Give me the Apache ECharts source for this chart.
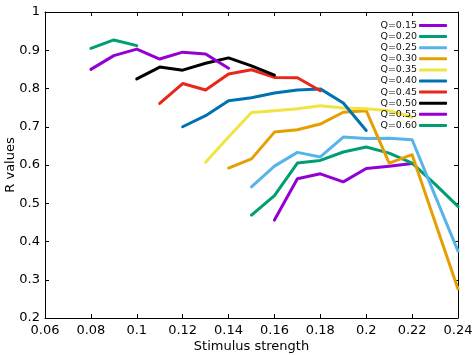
<!DOCTYPE html>
<html><head><meta charset="utf-8">
<script src="https://cdn.jsdelivr.net/npm/echarts@6/dist/echarts.min.js"></script>
<style>html,body{margin:0;padding:0;background:#fff}#c{width:474px;height:355px}</style>
</head><body><div id="c"></div>
<script>
const seriesNames = ['Q=0.15','Q=0.20','Q=0.25','Q=0.30','Q=0.35','Q=0.40','Q=0.45','Q=0.50','Q=0.55','Q=0.60'];
const q15x = [0.16,0.17,0.18,0.19,0.20,0.21,0.22];
const q15y = [0.456,0.564,0.577,0.556,0.591,0.597,0.604];
const q20x = [0.15,0.16,0.17,0.18,0.19,0.20,0.21,0.22,0.23,0.24];
const q20y = [0.469,0.520,0.605,0.612,0.634,0.647,0.631,0.605,0.550,0.492];
const q25x = [0.15,0.16,0.17,0.18,0.19,0.20,0.21,0.22,0.23,0.24];
const q25y = [0.543,0.597,0.633,0.621,0.673,0.669,0.670,0.666,0.520,0.375];
const q30x = [0.14,0.15,0.16,0.17,0.18,0.19,0.20,0.21,0.22,0.23,0.24];
const q30y = [0.592,0.616,0.686,0.692,0.707,0.738,0.742,0.605,0.627,0.451,0.276];
const q35x = [0.13,0.14,0.15,0.16,0.17,0.18,0.19,0.20,0.21,0.22];
const q35y = [0.607,0.673,0.737,0.742,0.747,0.755,0.749,0.747,0.742,0.725];
const q40x = [0.12,0.13,0.14,0.15,0.16,0.17,0.18,0.19,0.20];
const q40y = [0.700,0.729,0.768,0.776,0.788,0.796,0.799,0.762,0.690];
const q45x = [0.11,0.12,0.13,0.14,0.15,0.16,0.17,0.18];
const q45y = [0.761,0.813,0.796,0.838,0.849,0.829,0.828,0.794];
const q50x = [0.10,0.11,0.12,0.13,0.14,0.15,0.16];
const q50y = [0.825,0.856,0.848,0.866,0.880,0.859,0.835];
const q55x = [0.08,0.09,0.10,0.11,0.12,0.13,0.14];
const q55y = [0.850,0.886,0.903,0.877,0.895,0.890,0.853];
const q60x = [0.08,0.09,0.10];
const q60y = [0.905,0.927,0.912];

const xs = [q15x,q20x,q25x,q30x,q35x,q40x,q45x,q50x,q55x,q60x];
const ys = [q15y,q20y,q25y,q30y,q35y,q40y,q45y,q50y,q55y,q60y];
const colors = ['#9400D3','#009E73','#56B4E9','#E69F00','#F0E442','#0072B2','#E8261A','#000000','#9400D3','#009E73'];

const font = 'DejaVu Sans';
const axisLine = {show:true, lineStyle:{color:'#000', width:1}};
const axisTick = {show:true, inside:true, length:4, lineStyle:{color:'#000'}};

const chart = echarts.init(document.getElementById('c'), null, {renderer:'canvas'});
chart.setOption({
  animation:false,
  backgroundColor:'#fff',
  grid:{left:45, right:16, top:12, bottom:37, containLabel:false, outerBoundsMode:'none'},
  legend:{
    orient:'vertical', right:22, top:15, align:'right',
    icon:'roundRect', itemWidth:28, itemHeight:3, itemGap:0.1,
    textStyle:{fontFamily:font, fontSize:9.5, lineHeight:11, color:'#111', padding:[0,-3,0,0]},
    data: seriesNames
  },
  xAxis:[{
    type:'value', min:0.06, max:0.24, interval:0.02, position:'bottom',
    name:'Stimulus strength', nameLocation:'middle', nameGap:22, nameMoveOverlap:false,
    nameTextStyle:{fontFamily:font, fontSize:13, color:'#000'},
    axisLine, axisTick, splitLine:{show:false},
    axisLabel:{fontFamily:font, fontSize:13, color:'#000', margin:6}
  },{
    type:'value', min:0.06, max:0.24, interval:0.02, position:'top',
    axisLine, axisTick, splitLine:{show:false}, axisLabel:{show:false}
  }],
  yAxis:[{
    type:'value', min:0.2, max:1, interval:0.1, position:'left',
    name:'R values', nameLocation:'middle', nameGap:28, nameMoveOverlap:false,
    nameTextStyle:{fontFamily:font, fontSize:13, color:'#000'},
    axisLine, axisTick, splitLine:{show:false},
    axisLabel:{fontFamily:font, fontSize:13, color:'#000', margin:5}
  },{
    type:'value', min:0.2, max:1, interval:0.1, position:'right',
    axisLine, axisTick, splitLine:{show:false}, axisLabel:{show:false}
  }],
  series: seriesNames.map((n,i)=>({
    name:n, type:'line', xAxisIndex:0, yAxisIndex:0,
    data: xs[i].map((x,j)=>[x, ys[i][j]]),
    showSymbol:false, symbol:'none',
    lineStyle:{color:colors[i], width:3, cap:'round', join:'round'},
    itemStyle:{color:colors[i]}
  }))
});
</script></body></html>
